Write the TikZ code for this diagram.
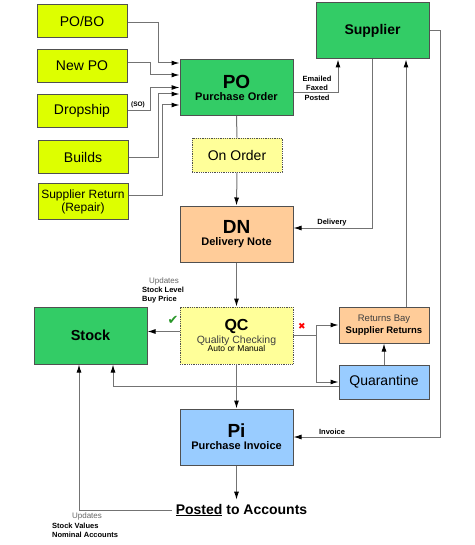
\documentclass[tikz,border=0pt]{standalone}
\usepackage{fontspec}
\setmainfont{Liberation Sans}
\newfontfamily\symfont{DejaVu Sans}
\usetikzlibrary{arrows.meta,positioning}
\definecolor{srcyellow}{RGB}{221,255,0}
\definecolor{stagegreen}{RGB}{51,204,102}
\definecolor{stageorange}{RGB}{255,204,153}
\definecolor{stageblue}{RGB}{153,204,255}
\definecolor{noteyellow}{RGB}{255,255,153}
\definecolor{boxline}{RGB}{80,80,80}
\definecolor{flowline}{RGB}{115,115,115}
\definecolor{okgreen}{RGB}{40,150,40}
\tikzset{>={Latex[length=8pt,width=5pt,color=black]}}
\tikzset{
  srcbox/.style={draw=boxline, line width=1pt, fill=srcyellow,
    minimum width=90pt, minimum height=33pt, inner sep=0pt,
    align=center, font=\fontsize{14}{14}\selectfont},
  stagebox/.style={draw=boxline, line width=1pt,
    minimum width=113pt, minimum height=56pt, inner sep=0pt,
    align=center, font=\bfseries\fontsize{11}{13}\selectfont},
  notebox/.style={draw=boxline, line width=0.8pt, dash pattern=on 1pt off 0.8pt,
    fill=noteyellow, inner sep=0pt, align=center},
  sidebox/.style={draw=boxline, line width=1pt,
    minimum width=90pt, inner sep=0pt, align=center},
  flow/.style={draw=flowline, line width=1pt},
  tag/.style={font=\bfseries\fontsize{7.5}{9.5}\selectfont, align=center, inner sep=0pt}
}
\begin{document}
\begin{tikzpicture}[x=1pt,y=-1pt]
  \useasboundingbox (0,0) rectangle (474,545);

  % sources of a purchase order
  \node [srcbox] (pobo) at (82,21) {PO/BO};
  \node [srcbox] (newpo) at (82,66) {New PO};
  \node [srcbox] (dropship) at (82,111) {Dropship};
  \node [srcbox] (builds) at (83,157.5) {Builds};
  \node [srcbox, minimum height=35pt, font=\fontsize{12}{13}\selectfont
  ] (suppret) at (83,201.5) {Supplier Return\\(Repair)};

  % main stages
  \node [stagebox, fill=stagegreen
  ] (po) at (236.5,87.5) {{\fontsize{19}{19}\selectfont PO}\\[-1pt]Purchase Order};
  \node [stagebox, fill=stagegreen, font=\bfseries\fontsize{14}{14}\selectfont
  ] (supplier) at (372.5,31) {Supplier};
  \node [notebox, minimum width=90pt, minimum height=34pt,
    font=\fontsize{14}{14}\selectfont
  ] (onorder) at (237,155) {On Order};
  \node [stagebox, fill=stageorange
  ] (dn) at (236.5,234) {{\fontsize{19}{19}\selectfont DN}\\[-1pt]Delivery Note};
  \node [stagebox, fill=stagegreen, minimum height=57pt,
    font=\bfseries\fontsize{14.5}{14.5}\selectfont
  ] (stock) at (90.5,335.5) {Stock};
  \node [notebox, minimum width=113pt, minimum height=57pt,
    font=\fontsize{10.5}{11}\selectfont
  ] (qc) at (236.5,335.5) {{\bfseries\fontsize{16}{16}\selectfont QC}\\[2pt]
    {\color{black!75}Quality Checking}\\[-2.5pt]{\fontsize{8.5}{9}\selectfont Auto or Manual}};
  \node [sidebox, fill=stageorange, minimum height=36pt,
    font=\fontsize{9.5}{11.5}\selectfont
  ] (retbay) at (384,325) {{\color{black!75}Returns Bay}\\\bfseries Supplier Returns};
  \node [sidebox, fill=stageblue, minimum height=34pt,
    font=\fontsize{14}{14}\selectfont
  ] (quarantine) at (384,382) {Quarantine};
  \node [stagebox, fill=stageblue
  ] (pi) at (236.5,437) {{\fontsize{19}{19}\selectfont Pi}\\[-1pt]Purchase Invoice};
  \node [inner sep=4pt, font=\bfseries\fontsize{14}{14}\selectfont
  ] (posted) at (241.5,510) {\underline{Posted} to Accounts};

  % into the PO
  \draw [flow,->] ([yshift=-2pt]pobo.east) -- ++(31,0) |- ([yshift=24.5pt]po.west);
  \draw [flow,->] ([yshift=3pt]newpo.east) -- ++(23,0) |- ([yshift=12.5pt]po.west);
  \draw [flow,->] (dropship.east) -- ++(23,0) |- (po.west);
  \draw [flow,->] (builds.east) -- ++(30,0) |- ([yshift=-6.5pt]po.west);
  \draw [flow,->] ([yshift=5.5pt]suppret.east) -- ++(34,0) |- ([yshift=-17.5pt]po.west);
  \node [tag, font=\bfseries\fontsize{6.5}{7}\selectfont] (so) at (138,104.5) {(SO)};

  % PO to supplier and on through delivery
  \draw [flow,->] ([yshift=-5.5pt]po.east) -| ([xshift=-34.5pt]supplier.south);
  \node [tag] (sent) at (317,88) {Emailed\\Faxed\\Posted};
  \draw [flow] (po.south) -- (onorder.north);
  \draw [flow,->] (onorder.south) -- (dn.north);
  \draw [flow,->] (supplier.south) |- ([yshift=6pt]dn.east);
  \node [tag] (delivery) at (332,223) {Delivery};
  \draw [flow,->] (dn.south) -- (qc.north);

  % quality checking outcomes
  \draw [flow,->] ([yshift=4pt]qc.west) -- ([yshift=4pt]stock.east);
  \node [font=\symfont\fontsize{13}{13}\selectfont, text=okgreen, inner sep=0pt
  ] (pass) at (173,320) {✔};
  \node [font=\fontsize{8}{9}\selectfont, text=black!60, inner sep=0pt
  ] (upd1) at (164,281) {Updates};
  \node [tag, align=left, anchor=west] (upd2) at (142,295) {Stock Level\\Buy Price};
  \draw [flow] (qc.east) -- ++(23,0) coordinate (split);
  \draw [flow,->] (split) |- (retbay.west);
  \draw [flow,->] (split) |- (quarantine.west);
  \node [font=\symfont\bfseries\fontsize{9}{9}\selectfont, text=red, inner sep=0pt
  ] (fail) at (302,326) {✖};
  \draw [flow,->] (quarantine.north) -- (retbay.south);
  \draw [flow,->] ([xshift=22pt]retbay.north) -- ([xshift=33.5pt]supplier.south);
  \draw [flow,->] ([yshift=-4pt]quarantine.west) -| ([xshift=22.5pt]stock.south);

  % invoicing and accounts
  \draw [flow,->] (qc.south) -- (pi.north);
  \draw [flow,->] (supplier.east) -- ++(11,0) |- (pi.east);
  \node [tag] (invoice) at (332,432) {Invoice};
  \draw [flow,->] (pi.south) -- (pi.south |- posted.north);
  \draw [flow,->] (posted.west) -| ([xshift=-11.5pt]stock.south);
  \node [font=\fontsize{8}{9}\selectfont, text=black!60, inner sep=0pt
  ] (upd3) at (87,516) {Updates};
  \node [tag, align=left, anchor=west] (upd4) at (52,530.5) {Stock Values\\Nominal Accounts};
\end{tikzpicture}
\end{document}
